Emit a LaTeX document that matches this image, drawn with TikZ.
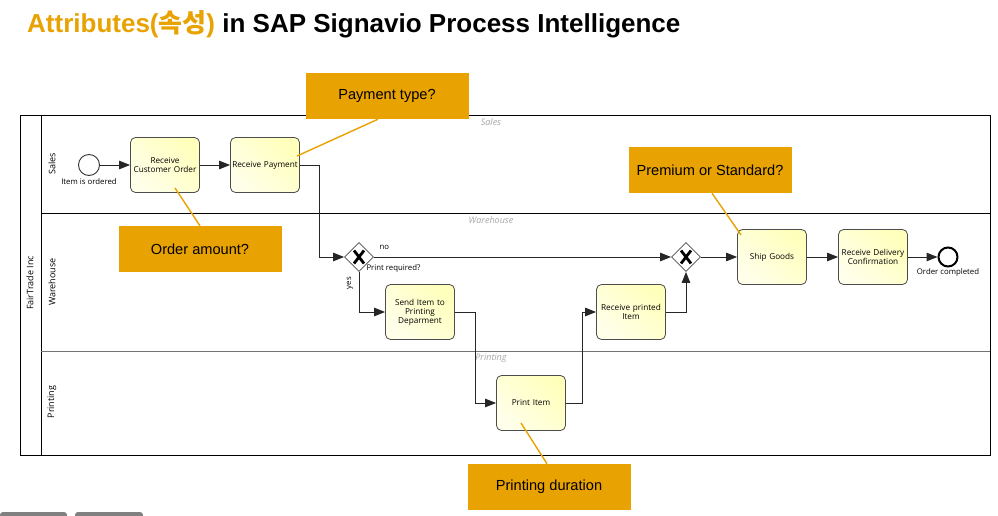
\documentclass[tikz,border=0pt]{standalone}
\usepackage{fontspec}
\setmainfont{Liberation Sans}
\newfontfamily\cjk{Noto Sans CJK KR}
\newfontfamily\bpmn{Open Sans}
\usetikzlibrary{arrows.meta,shapes.geometric,calc}
\definecolor{sig}{HTML}{E8A202}
\definecolor{taskA}{HTML}{FFFFEA}
\definecolor{taskB}{HTML}{FFFFBC}
\tikzset{
  task/.style={draw=black!70, line width=0.8pt, rounded corners=5pt, minimum width=69pt, minimum height=55pt,
    left color=taskA, right color=taskB, shading angle=135, align=center, font=\bpmn\fontsize{8.2}{9}\selectfont, inner sep=1pt, text width=67pt},
  gw/.style={diamond, draw=black!70, line width=0.8pt, fill=white, minimum size=29pt, inner sep=0pt},
  flow/.style={draw=black!85, line width=1pt, -{Triangle[length=11pt,width=8.5pt]}},
  callout/.style={fill=sig, minimum width=163pt, minimum height=46pt, font=\fontsize{14.6}{16}\selectfont, inner sep=0pt},
  callline/.style={draw=sig, line width=1.4pt},
  lanelbl/.style={rotate=90, font=\bpmn\fontsize{9}{10}\selectfont},
  lanetitle/.style={font=\bpmn\itshape\fontsize{9}{10}\selectfont, text=black!35},
  evlbl/.style={font=\bpmn\fontsize{7.8}{9}\selectfont},
  poolline/.style={draw=black, line width=0.9pt}
}
\begin{document}
\begin{tikzpicture}[x=1pt,y=-1pt]
\useasboundingbox (0,0) rectangle (998,516);
\fill[white] (0,0) rectangle (998,516);
% title
\node[anchor=base west, inner sep=0pt, font=\bfseries\fontsize{26}{29}\selectfont] (title) at (27,33)
  {\textcolor{sig}{Attributes({\cjk 속성})}\ in SAP Signavio Process Intelligence};
% bottom tabs
\fill[black!50, rounded corners=3pt] (0,512) rectangle (67,522);
\fill[black!50, rounded corners=3pt] (75,512) rectangle (143,522);
% pool
\draw[poolline] (20,115) rectangle (990,455);
\draw[poolline] (41,115) -- (41,455);
\draw[poolline] (41,213) -- (990,213);
\draw[draw=black!55, line width=0.9pt] (41,351) -- (990,351);
\node[lanelbl] (pool) at (30,283) {FairTrade Inc};
\node[lanelbl] (lsales) at (52,164) {Sales};
\node[lanelbl] (lware) at (52,282) {Warehouse};
\node[lanelbl] (lprint) at (52,402) {Printing};
\node[lanetitle] (tsales) at (491,122) {Sales};
\node[lanetitle] (tware) at (491,220) {Warehouse};
\node[lanetitle] (tprint) at (491,358) {Printing};
% events
\node[circle, draw=black!80, line width=0.9pt, minimum size=21pt, inner sep=0pt] (start) at (89,165) {};
\node[evlbl] (startl) at (89,182) {Item is ordered};
\node[circle, draw=black, line width=2pt, minimum size=19pt, inner sep=0pt] (end) at (948,257) {};
\node[evlbl] (endl) at (948,272) {Order completed};
% tasks
\node[task] (rco) at (165,165) {Receive\\Customer Order};
\node[task] (rp) at (265,165) {Receive Payment};
\node[task] (si) at (420,312) {Send Item to\\Printing\\Deparment};
\node[task] (pi) at (531,403) {Print Item};
\node[task] (rpi) at (631,312) {Receive printed\\Item};
\node[task] (sg) at (772,257) {Ship Goods};
\node[task] (rdc) at (873,257) {Receive Delivery\\Confirmation};
% gateways
\node[gw] (g1) at (359,257) {};
\node[gw] (g2) at (686,257) {};
\foreach \g in {g1,g2}{
  \draw[line width=2.8pt, line cap=butt] ($(\g)+(-5,-6.5)$) -- ($(\g)+(5,6.5)$);
  \draw[line width=2.8pt, line cap=butt] ($(\g)+(5,-6.5)$) -- ($(\g)+(-5,6.5)$);
}
\node[evlbl, anchor=west] (nol) at (376,247) {no};
\node[evlbl, anchor=west] (prl) at (363,268) {Print required?};
\node[evlbl, rotate=90] (yesl) at (350,283) {yes};
% flows
\coordinate (c1) at (319,257);
\coordinate (c2) at (475,403);
\coordinate (c3) at (582,312);
\draw[flow] (start) -- (rco);
\draw[flow] (rco) -- (rp);
\draw[flow] (rp.east) -| (c1) -- (g1.west);
\draw[flow] (g1.east) -- (g2.west);
\draw[flow] (g1.south) |- (si.west);
\draw[flow] (si.east) -| (c2) -- (pi.west);
\draw[flow] (pi.east) -| (c3) -- (rpi.west);
\draw[flow] (rpi.east) -| (g2.south);
\draw[flow] (g2.east) -- (sg.west);
\draw[flow] (sg) -- (rdc);
\draw[flow] (rdc) -- (end);
% callouts
\node[callout] (cpt) at (387,96) {Payment type?};
\node[callout] (coa) at (200,249) {Order amount?};
\node[callout] (cps) at (710,170) {Premium or Standard?};
\node[callout] (cpd) at (549,487) {Printing duration};
\draw[callline] ($(cpt.south)+(-9,0)$) -- ($(rp.center)+(32,-9)$);
\draw[callline] (coa.north) -- ($(rco.center)+(10,23)$);
\draw[callline] ($(cps.south)+(2,0)$) -- ($(sg.center)+(-31,-22)$);
\draw[callline] ($(cpd.north)+(-2,0)$) -- ($(pi.center)+(-10,20)$);
\end{tikzpicture}
\end{document}
